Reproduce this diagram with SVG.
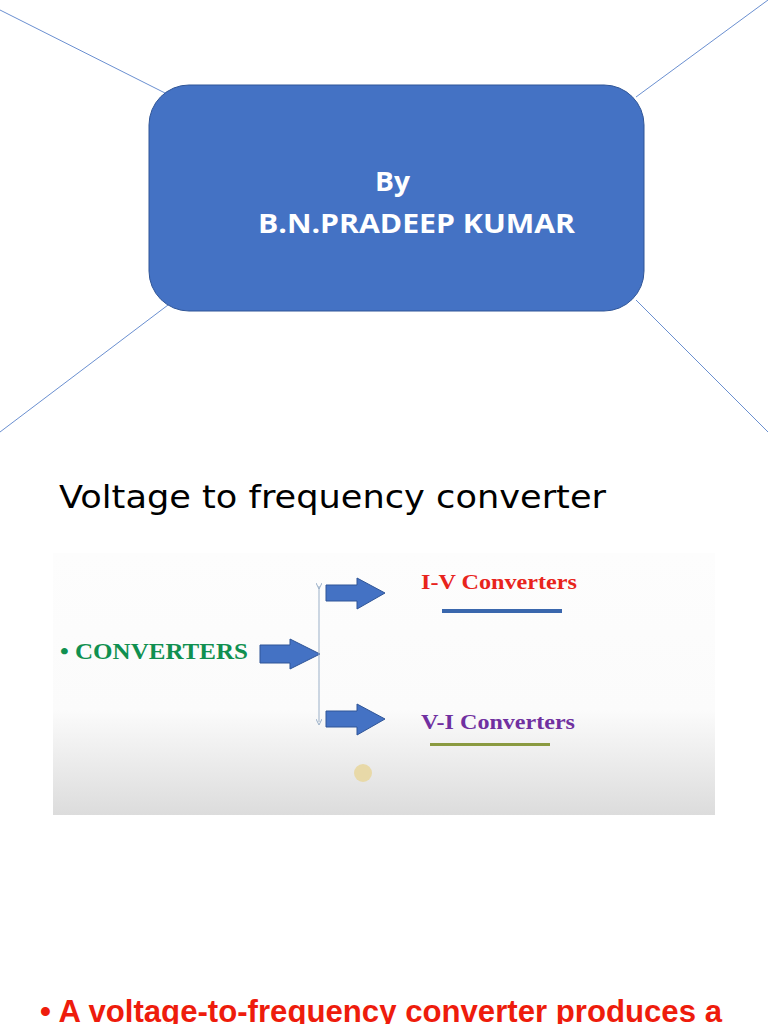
<svg xmlns="http://www.w3.org/2000/svg" width="768" height="1024" viewBox="0 0 768 1024">
<defs>
<style>
.diag{stroke:#4472c4;stroke-width:0.8;fill:none}
.arr{fill:#4472c4;stroke:#2f5597;stroke-width:1}
</style>
<linearGradient id="bg" x1="0" y1="0" x2="0" y2="1">
<stop offset="0" stop-color="#fdfdfd"/><stop offset="0.6" stop-color="#fbfbfb"/><stop offset="1" stop-color="#dcdcdc"/>
</linearGradient>
<marker id="ah" markerWidth="6" markerHeight="6" refX="3" refY="3" orient="auto"><path d="M0,0 L6,3 L0,6" fill="none" stroke="#9bb0c8" stroke-width="1"/></marker>
</defs>
<rect width="768" height="1024" fill="#fff"/>
<g id="connectors">
<line class="diag" x1="0" y1="10" x2="165" y2="93"/>
<line class="diag" x1="768" y1="0" x2="636" y2="97"/>
<line class="diag" x1="0" y1="432" x2="168" y2="305"/>
<line class="diag" x1="768" y1="432" x2="636" y2="300"/>
</g>
<g id="title-node">
<rect x="149" y="85" width="495" height="226" rx="40" fill="#4472c4" stroke="#2f5597" stroke-width="1"/>
<text x="375" y="191" font-family="Open Sans, sans-serif" font-weight="bold" font-size="27" fill="#fff" textLength="35" lengthAdjust="spacingAndGlyphs">By</text>
<text x="258" y="233" font-family="Open Sans, sans-serif" font-weight="bold" font-size="27" fill="#fff" textLength="317" lengthAdjust="spacingAndGlyphs">B.N.PRADEEP KUMAR</text>
</g>
<text x="59" y="508" font-family="DejaVu Sans, sans-serif" font-size="32" fill="#000" textLength="547" lengthAdjust="spacingAndGlyphs">Voltage to frequency converter</text>
<g id="slide">
<rect x="53" y="553" width="662" height="262" fill="url(#bg)"/>
<text x="60" y="659" font-family="Liberation Serif, serif" font-weight="bold" font-size="23" fill="#109050" textLength="188" lengthAdjust="spacingAndGlyphs">• CONVERTERS</text>
<polygon class="arr" points="260,645 290,645 290,639 320,654 290,669 290,663 260,663"/>
<line x1="319" y1="586" x2="319" y2="722" stroke="#9bb0c8" stroke-width="1" marker-start="url(#ah)" marker-end="url(#ah)"/>
<polygon class="arr" points="326,585 357,585 357,578 385,593 357,609 357,601 326,601"/>
<polygon class="arr" points="326,711 357,711 357,704 385,719 357,735 357,727 326,727"/>
<text x="421" y="589" font-family="Liberation Serif, serif" font-weight="bold" font-size="22" fill="#e8241c" textLength="156" lengthAdjust="spacingAndGlyphs">I-V Converters</text>
<rect x="442" y="609" width="120" height="4" fill="#3a67ad"/>
<text x="421" y="729" font-family="Liberation Serif, serif" font-weight="bold" font-size="22" fill="#7030a0" textLength="154" lengthAdjust="spacingAndGlyphs">V-I Converters</text>
<rect x="430" y="743" width="120" height="3" fill="#8a9a40"/>
<circle cx="363" cy="773" r="9" fill="#e8d9a8"/>
</g>
<text x="40" y="1022" font-family="Liberation Sans, sans-serif" font-weight="bold" font-size="31" fill="#ee1c0c" textLength="682" lengthAdjust="spacingAndGlyphs">• A  voltage-to-frequency  converter  produces  a</text>
</svg>
